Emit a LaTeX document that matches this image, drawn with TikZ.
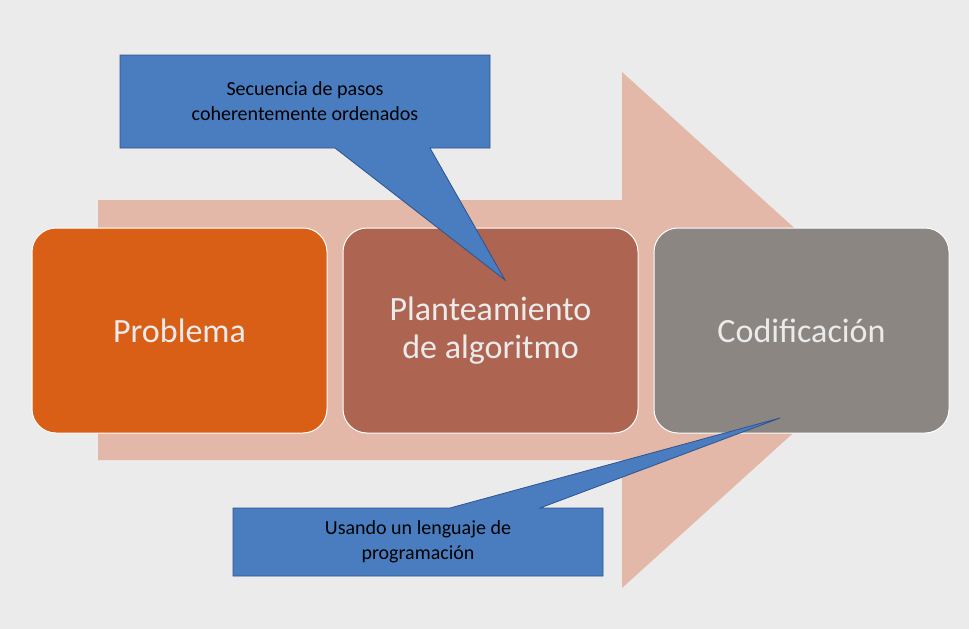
\documentclass[tikz,border=0pt]{standalone}
\usepackage{fontspec}
\setmainfont{Carlito}
\begin{document}
\begin{tikzpicture}[x=1pt,y=-1pt,
  stagebox/.style={rounded corners=24pt,draw=white,line width=1pt,text=white!92!black,font=\fontsize{34}{38}\selectfont,align=center},
  callout/.style={fill=calblue,draw=calborder,line width=0.8pt},
  calltext/.style={font=\fontsize{20}{25}\selectfont,align=center,text=black}]
\definecolor{bg}{HTML}{EBEBEB}
\definecolor{arrowc}{HTML}{E3B8A8}
\definecolor{orangec}{HTML}{D95F16}
\definecolor{brownc}{HTML}{AD6450}
\definecolor{grayc}{HTML}{8C8682}
\definecolor{calblue}{HTML}{4A7DC0}
\definecolor{calborder}{HTML}{2F528F}
\fill[bg] (0,0) rectangle (969,629);
\useasboundingbox (0,0) rectangle (969,629);
\fill[arrowc] (98,200) -- (622,200) -- (622,72) -- (907,330) -- (622,588) -- (622,460) -- (98,460) -- cycle;
\node[stagebox,fill=orangec,minimum width=295pt,minimum height=205pt] (p) at (179.5,330.5) {Problema};
\node[stagebox,fill=brownc,minimum width=295pt,minimum height=205pt] (a) at (490.5,330.5) {Planteamiento\\de algoritmo};
\node[stagebox,fill=grayc,minimum width=295pt,minimum height=205pt] (c) at (801.5,330.5) {Codificación};
\draw[callout] (120,55) -- (490,55) -- (490,148) -- (430,148) -- (505,280) -- (335,148) -- (120,148) -- cycle;
\node[calltext] (t1) at (305,101) {Secuencia de pasos\\coherentemente ordenados};
\draw[callout] (233,508) -- (450,508) -- (780,418) -- (540,508) -- (603,508) -- (603,576) -- (233,576) -- cycle;
\node[calltext] (t2) at (418,542) {Usando un lenguaje de\\programación};
\end{tikzpicture}
\end{document}
